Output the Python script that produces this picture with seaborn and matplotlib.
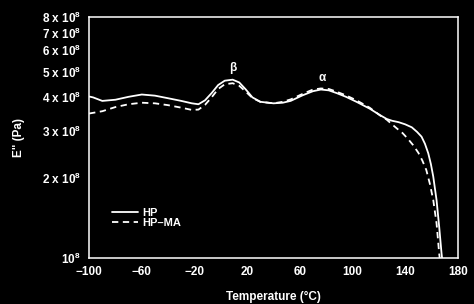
import pandas as pd
import matplotlib
matplotlib.use("Agg")
import matplotlib.pyplot as plt
import seaborn as sns

# E" vs temperature (E in units of 1e8 Pa)
hp_temp = [-100, -97, -90, -80, -70, -60, -50, -40, -30, -22, -17, -12, -7, -2, 3, 9, 14, 19, 24, 30,
           40, 47, 53, 62, 70, 76, 82, 88, 95, 103, 113, 121, 126, 130, 135, 140, 145, 149, 152.4,
           155, 157.5, 159.5, 161.3, 163.8, 165.8, 167.6, 168]
hp_e = [4.03, 4.0, 3.88, 3.92, 4.02, 4.1, 4.06, 3.97, 3.88, 3.80, 3.77, 3.9, 4.15, 4.45, 4.62, 4.66, 4.55, 4.28, 4.0, 3.85,
        3.80, 3.82, 3.88, 4.07, 4.22, 4.28, 4.25, 4.15, 4.02, 3.85, 3.63, 3.43, 3.32, 3.27, 3.23, 3.17, 3.09, 2.97, 2.85,
        2.68, 2.47, 2.25, 2.02, 1.65, 1.31, 1.04, 1.0]

hpma_temp = [-100, -90, -80, -70, -60, -50, -40, -30, -22, -17, -12, -7, -2, 3, 9, 14, 19, 24, 30,
             40, 47, 53, 62, 70, 76, 82, 88, 95, 103, 113, 121, 126, 130, 134, 138, 142, 146, 150,
             153, 156, 158.7, 161.3, 163.8, 165.8, 166.2]
hpma_e = [3.48, 3.55, 3.68, 3.77, 3.82, 3.80, 3.74, 3.66, 3.59, 3.60, 3.75, 4.0, 4.3, 4.48, 4.52, 4.42, 4.2, 3.98, 3.85,
          3.80, 3.85, 3.93, 4.12, 4.28, 4.32, 4.3, 4.2, 4.07, 3.9, 3.66, 3.42, 3.30, 3.17, 3.05, 2.94, 2.80, 2.65, 2.48,
          2.32, 2.14, 1.90, 1.65, 1.35, 1.04, 1.0]

x_ticks = [-100, -60, -20, 20, 60, 100, 140, 180]
y_ticks = [1, 2, 3, 4, 5, 6, 7, 8]
y_tick_labels = ["10$\\mathregular{^8}$"] + ["%d x 10$\\mathregular{^8}$" % v for v in y_ticks[1:]]

df = pd.concat([
    pd.DataFrame({"T": hp_temp, "E": [v * 1e8 for v in hp_e], "series": "HP"}),
    pd.DataFrame({"T": hpma_temp, "E": [v * 1e8 for v in hpma_e], "series": "HP\u2013MA"}),
])

sns.set_style("white")
plt.rcParams["font.family"] = ["Liberation Sans", "DejaVu Sans"]
plt.rcParams["font.weight"] = "bold"
plt.rcParams["mathtext.fontset"] = "custom"
plt.rcParams["mathtext.rm"] = "Liberation Sans:bold"

fig = plt.figure(figsize=(4.74, 3.04), dpi=100, facecolor="black")
ax = fig.add_axes([0.188, 0.151, 0.778, 0.793])
ax.set_facecolor("black")

sns.lineplot(data=df, x="T", y="E", style="series", color="white",
             dashes={"HP": "", "HP\u2013MA": (3.5, 2.5)}, linewidth=1.3,
             estimator=None, sort=False, ax=ax)

ax.set_yscale("log")
ax.set_xlim(-100, 180)
ax.set_ylim(1e8, 8e8)
ax.set_xticks(x_ticks)
ax.set_yticks([v * 1e8 for v in y_ticks])
ax.set_yticklabels(y_tick_labels)
ax.minorticks_off()
ax.yaxis.set_minor_locator(matplotlib.ticker.NullLocator())

for s in ax.spines.values():
    s.set_color("white")
    s.set_linewidth(1.1)
ax.tick_params(colors="white", labelcolor="white", direction="out", length=4, width=1.1,
               labelsize=8.5, pad=2)

ax.set_xlabel("Temperature (\u00b0C)", color="white", fontsize=8.5, fontweight="bold", labelpad=9)
ax.set_ylabel('E" (Pa)', color="white", fontsize=8.5, fontweight="bold", labelpad=12)

ax.text(9, 5.15e8, "\u03b2", color="white", fontsize=8.5, ha="center", va="center")
ax.text(77, 4.72e8, "\u03b1", color="white", fontsize=8.5, ha="center", va="center")

leg = ax.legend(loc="lower left", bbox_to_anchor=(0.05, 0.105), frameon=False,
                prop={"size": 8, "weight": "bold"},
                handlelength=2.3, handletextpad=0.4, labelspacing=0.05, borderaxespad=0)
for t in leg.get_texts():
    t.set_color("white")
for h in leg.get_lines():
    h.set_color("white")

fig.savefig("out.png", dpi=100, facecolor="black")
